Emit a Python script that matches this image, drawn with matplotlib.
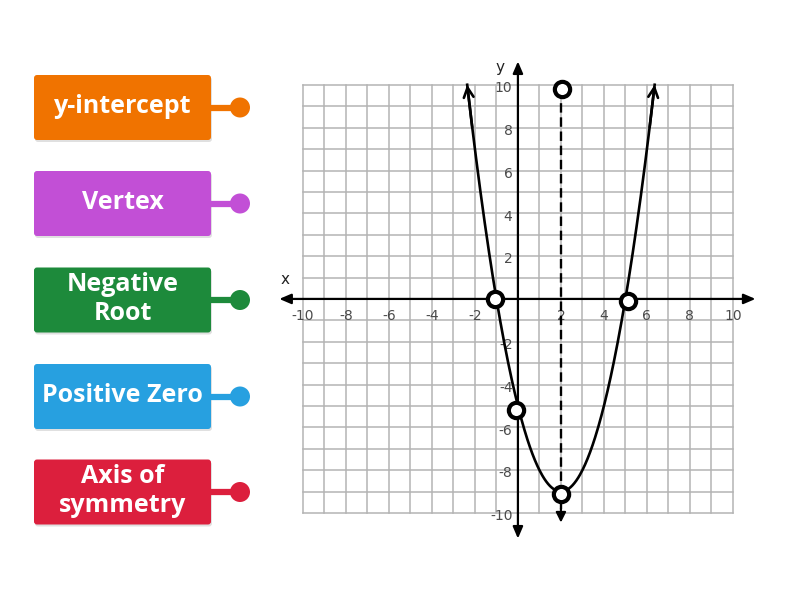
import numpy as np
import matplotlib.pyplot as plt
from matplotlib.patches import FancyBboxPatch, Circle

# parabola y = a x^2 + b x + c
a, b, c = 1, -4, -5
x_left, x_right = -2.36, 6.36

# marked points on the graph
point_x = [-1.07, 5.12, -0.1, 2.0, 2.05]
point_y = [0.0, -0.1, -5.2, -9.1, 9.8]

axis_sym = 2
tick_vals = [-10, -8, -6, -4, -2, 2, 4, 6, 8, 10]

labels = ["y-intercept", "Vertex", "Negative\nRoot", "Positive Zero", "Axis of\nsymmetry"]
box_colors = ["#f07300", "#c24fd6", "#1d8a3b", "#27a0e0", "#dc1f3d"]

fig = plt.figure(figsize=(8, 6), dpi=100)

# main graph, axes covers whole figure, limits chosen so 1 unit ~ 21.5 px
ax = fig.add_axes([0, 0, 1, 1])
ax.set_xlim(-24.09, 13.12)
ax.set_ylim(-14.07, 13.97)
ax.axis("off")

# grid
grid_c = "#b4b4b4"
for g in range(-10, 11):
    ax.plot([g, g], [-10, 10], color=grid_c, lw=1.1, zorder=1)
    ax.plot([-10, 10], [g, g], color=grid_c, lw=1.1, zorder=1)

# axes with arrows
ax.annotate("", xy=(11.05, 0), xytext=(-11.1, 0),
            arrowprops=dict(arrowstyle="<|-|>,head_length=0.7,head_width=0.3",
                            lw=1.6, color="black", shrinkA=0, shrinkB=0), zorder=3)
ax.annotate("", xy=(0, 11.1), xytext=(0, -11.2),
            arrowprops=dict(arrowstyle="<|-|>,head_length=0.7,head_width=0.3",
                            lw=1.6, color="black", shrinkA=0, shrinkB=0), zorder=3)
ax.text(-10.85, 0.9, "x", fontsize=11, ha="center", va="center", color="#222")
ax.text(-0.85, 10.8, "y", fontsize=11, ha="center", va="center", color="#222")

# tick labels
for t in tick_vals:
    ax.text(t, -0.8, str(t), fontsize=10, ha="center", va="center",
            color="#4a4a4a", zorder=2)
    ax.text(-0.25, t - 0.15, str(t), fontsize=10, ha="right", va="center",
            color="#4a4a4a", zorder=2)

# parabola
xs = np.linspace(x_left, x_right, 300)
ys = a * xs**2 + b * xs + c
ax.plot(xs, ys, color="black", lw=1.9, zorder=4)
for i0, i1 in [(8, 0), (-9, -1)]:
    ax.annotate("", xy=(xs[i1], ys[i1]), xytext=(xs[i0], ys[i0]),
                arrowprops=dict(arrowstyle="->,head_length=0.7,head_width=0.35",
                                lw=1.9, color="black", shrinkA=0, shrinkB=0),
                zorder=4)

# axis of symmetry
ax.plot([axis_sym, axis_sym], [9.8, -9.9], color="black", lw=1.7,
        dashes=(4, 2), zorder=4)
ax.annotate("", xy=(axis_sym, -10.45), xytext=(axis_sym, -9.8),
            arrowprops=dict(arrowstyle="-|>,head_length=0.6,head_width=0.3",
                            lw=1.5, color="black", shrinkA=0, shrinkB=0), zorder=4)

# marked points
ax.plot(point_x, point_y, "o", ms=11, mfc="white", mec="black", mew=3,
        linestyle="none", zorder=5)

# label boxes on the left (pixel coordinates)
ax2 = fig.add_axes([0, 0, 1, 1])
ax2.set_xlim(0, 800)
ax2.set_ylim(600, 0)
ax2.axis("off")

box_x0, box_x1 = 34, 211
box_h = 65
centers = [107.5, 203.5, 300, 396.5, 492]
for lab, col, cy in zip(labels, box_colors, centers):
    # soft shadow
    ax2.add_patch(FancyBboxPatch((box_x0 + 1, cy - box_h / 2 + 2), box_x1 - box_x0,
                                 box_h, boxstyle="round,pad=0,rounding_size=3",
                                 fc="#000000", ec="none", alpha=0.12))
    ax2.add_patch(FancyBboxPatch((box_x0, cy - box_h / 2), box_x1 - box_x0, box_h,
                                 boxstyle="round,pad=0,rounding_size=3",
                                 fc=col, ec="none"))
    ax2.plot([box_x1, 236], [cy, cy], color=col, lw=4.5, solid_capstyle="butt")
    ax2.add_patch(Circle((240, cy), 10, fc=col, ec="none"))
    ax2.text((box_x0 + box_x1) / 2, cy - 1, lab, color="white", fontsize=18,
             fontweight="bold", family="Open Sans", ha="center", va="center",
             linespacing=1.25)

fig.savefig("out.png", dpi=100)
